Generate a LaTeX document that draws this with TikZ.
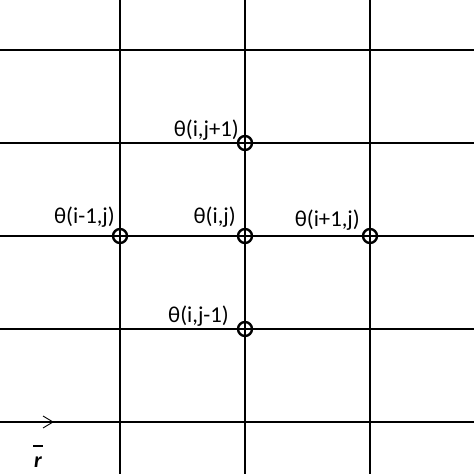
\documentclass[tikz,border=0pt]{standalone}
\usepackage{fontspec}
\setmainfont{Carlito}
\begin{document}
\begin{tikzpicture}[x=1bp,y=1bp,
  gridline/.style={line width=2.4bp,black},
  pt/.style={circle,draw=black,line width=2.4bp,minimum size=14bp,inner sep=0pt},
  lbl/.style={font=\fontsize{22.8}{26}\selectfont,inner sep=0pt,anchor=base east}]
\useasboundingbox (0,0) rectangle (474,474);
% grid coordinates
\foreach \x [count=\i] in {120,245,370}{
  \coordinate (vt\i) at (\x,474);
  \coordinate (vb\i) at (\x,0);
  \draw[gridline] (vb\i) -- (vt\i);
}
\foreach \y [count=\i] in {424,331,238,145,52}{
  \coordinate (hl\i) at (0,\y);
  \coordinate (hr\i) at (474,\y);
  \draw[gridline] (hl\i) -- (hr\i);
}
% points
\node[pt] (top) at (245,331) {};
\node[pt] (left) at (120,238) {};
\node[pt] (mid) at (245,238) {};
\node[pt] (right) at (370,238) {};
\node[pt] (bot) at (245,145) {};
% labels
\node[lbl] (ltop) at (239,337) {θ(i,j+1)};
\node[lbl] (lleft) at (115,250) {θ(i-1,j)};
\node[lbl] (lmid) at (236,250) {θ(i,j)};
\node[lbl] (lright) at (360,247) {θ(i+1,j)};
\node[lbl] (lbot) at (229,151) {θ(i,j-1)};
% r-bar arrow
\coordinate (ca) at (43,58);
\coordinate (cb) at (53,52);
\coordinate (cc) at (43,46);
\draw[line width=0.9bp] (ca) -- (cb) -- (cc);
\node[font=\fontsize{22}{26}\selectfont\bfseries\itshape,inner sep=0pt,anchor=base] (rr) at (38,6) {r};
\coordinate (bl) at (33,28);
\coordinate (br) at (43,28);
\draw[line width=1.8bp] (bl) -- (br);
\end{tikzpicture}
\end{document}
